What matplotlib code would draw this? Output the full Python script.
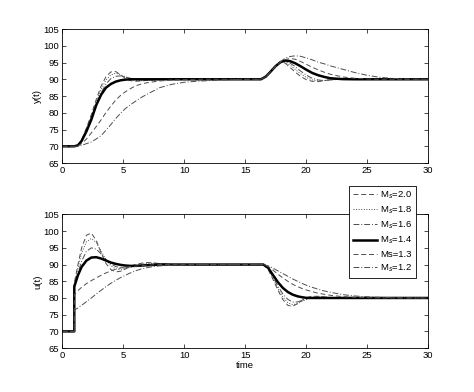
import numpy as np
import matplotlib.pyplot as plt

plt.rcParams['font.family'] = ['Liberation Sans', 'DejaVu Sans']
plt.rcParams['font.size'] = 6.8

# time grid for y(t)
tY = [0, 1.0, 1.3, 1.6,
      2.0, 2.4, 2.8, 3.2, 3.6,
      4.0, 4.4, 4.8, 5.2, 5.6,
      6.0, 6.5, 7, 8, 9,
      10, 11, 12, 13, 14,
      15, 16, 16.3, 16.7, 17.1,
      17.5, 17.9, 18.3, 18.7, 19.1,
      19.5, 20, 20.5, 21, 21.5,
      22, 23, 24, 25, 26,
      27, 28, 30]

y_20 = [70, 70, 70.3, 71.9,
        75.5, 79.5, 84, 88, 90.8,
        92.2, 92.3, 91.3, 90.2, 89.6,
        89.4, 89.5, 89.7, 89.9, 90,
        90, 90, 90, 90, 90,
        90, 90, 90, 90.8, 92.4,
        94, 95, 94.8, 93.5, 92.2,
        91, 89.9, 89.4, 89.3, 89.6,
        89.9, 90.05, 90, 90, 90,
        90, 90, 90]
y_18 = [70, 70, 70.3, 71.8,
        75.2, 79, 83.3, 87, 89.8,
        91.3, 91.8, 91.4, 90.7, 90.1,
        89.7, 89.6, 89.7, 89.9, 90,
        90, 90, 90, 90, 90,
        90, 90, 90, 90.8, 92.3,
        93.9, 95.1, 95.1, 94.2, 93,
        91.8, 90.6, 89.8, 89.5, 89.6,
        89.9, 90, 90, 90, 90,
        90, 90, 90]
y_16 = [70, 70, 70.3, 71.7,
        74.8, 78.5, 82.6, 86, 88.6,
        90.2, 90.9, 91, 90.7, 90.3,
        90, 89.8, 89.8, 89.9, 90,
        90, 90, 90, 90, 90,
        90, 90, 90, 90.8, 92.3,
        93.9, 95.2, 95.4, 94.8, 93.8,
        92.6, 91.3, 90.3, 89.8, 89.6,
        89.8, 90, 90, 90, 90,
        90, 90, 90]
y_14 = [70, 70, 70.3, 71.6,
        74.5, 78, 82.3, 85.4, 87.5,
        88.6, 89.3, 89.7, 89.9, 90,
        90, 90, 90, 90, 90,
        90, 90, 90, 90, 90,
        90, 90, 90, 90.8, 92.3,
        93.9, 95.1, 95.6, 95.4, 94.8,
        94, 92.9, 91.9, 91.2, 90.7,
        90.3, 90.05, 90, 90, 90,
        90, 90, 90]
y_13 = [70, 70, 70.2, 70.8,
        72.2, 74, 75.9, 77.9, 80.1,
        82, 83.8, 85.2, 86.3, 87.2,
        88, 88.6, 89, 89.5, 89.8,
        89.9, 90, 90, 90, 90,
        90, 90, 90, 90.8, 92.3,
        93.8, 95.1, 95.9, 96.2, 96,
        95.4, 94.5, 93.6, 92.8, 92.1,
        91.5, 90.7, 90.3, 90.1, 90,
        90, 90, 90]
y_12 = [70, 70, 70, 70.3,
        70.8, 71.3, 72.2, 73.2, 74.8,
        76.5, 78.3, 79.9, 81.3, 82.4,
        83.4, 84.6, 85.6, 87.5, 88.5,
        89.1, 89.4, 89.6, 89.8, 89.9,
        90, 90, 90, 90.8, 92.3,
        93.9, 95.3, 96.3, 96.8, 97,
        96.9, 96.4, 95.8, 95.1, 94.6,
        94, 93, 92, 91.2, 90.6,
        90.3, 90.1, 90]

# time grid for u(t), step at t=1
tU = [0, 1.0, 1.0, 1.3, 1.6,
      2.0, 2.4, 2.8, 3.2, 3.6,
      4.0, 4.4, 4.8, 5.2, 5.6,
      6.0, 6.5, 7, 7.5, 8,
      9, 10, 11, 12, 14,
      16, 16.5, 16.9, 17.3, 17.7,
      18.1, 18.5, 18.9, 19.3, 19.7,
      20.1, 20.5, 21, 21.5, 22,
      23, 24, 25, 26, 27,
      28, 30]

u_20 = [70, 70, 84.5, 90, 95,
        98.8, 99.4, 97.2, 93.5, 90.3,
        88.5, 87.8, 88, 88.7, 89.5,
        90, 90.4, 90.6, 90.5, 90.3,
        90, 90, 90, 90, 90,
        90, 90, 88.5, 85.5, 82.3,
        79.5, 77.8, 77.5, 78.3, 79.4,
        80.2, 80.5, 80.5, 80.3, 80.1,
        80, 80, 80, 80, 80,
        80, 80]
u_18 = [70, 70, 84, 89, 93.5,
        96.8, 97.8, 96.6, 94, 91.4,
        89.6, 88.7, 88.4, 88.7, 89.2,
        89.7, 90.1, 90.4, 90.4, 90.2,
        90, 90, 90, 90, 90,
        90, 90, 88.7, 85.8, 82.8,
        80.3, 78.6, 78, 78.3, 79,
        79.7, 80.2, 80.4, 80.3, 80.1,
        80, 80, 80, 80, 80,
        80, 80]
u_16 = [70, 70, 83.5, 87.5, 91,
        94, 95, 94.6, 93.2, 91.5,
        90.2, 89.4, 89, 89, 89.2,
        89.5, 89.8, 90, 90.2, 90.2,
        90, 90, 90, 90, 90,
        90, 90, 88.9, 86.3, 83.5,
        81.2, 79.6, 78.8, 78.8, 79.3,
        79.8, 80.1, 80.2, 80.1, 80,
        80, 80, 80, 80, 80,
        80, 80]
u_14 = [70, 70, 83.4, 86.8, 89.3,
        91.2, 92.1, 92.2, 91.8, 91.2,
        90.6, 90.2, 89.9, 89.7, 89.6,
        89.6, 89.7, 89.8, 89.9, 90,
        90, 90, 90, 90, 90,
        90, 90, 89, 86.8, 84.7,
        83, 81.8, 81, 80.5, 80.2,
        80, 80, 80, 80, 80,
        80, 80, 80, 80, 80,
        80, 80]
u_13 = [70, 70, 81, 82.2, 83.2,
        84.3, 85.2, 86, 86.8, 87.5,
        88.1, 88.6, 89, 89.2, 89.4,
        89.5, 89.7, 89.8, 89.9, 90,
        90, 90, 90, 90, 90,
        90, 90, 89.4, 88.3, 87.1,
        86, 85, 84.1, 83.4, 82.8,
        82.3, 81.9, 81.4, 81.1, 80.8,
        80.4, 80.2, 80.1, 80, 80,
        80, 80]
u_12 = [70, 70, 76.4, 77, 77.8,
        78.9, 80, 81.2, 82.3, 83.4,
        84.4, 85.3, 86.1, 86.8, 87.5,
        88.1, 88.7, 89.1, 89.4, 89.6,
        89.8, 89.9, 90, 90, 90,
        90, 90, 89.6, 88.9, 88.1,
        87.3, 86.5, 85.7, 85, 84.3,
        83.7, 83.2, 82.6, 82.1, 81.7,
        81, 80.6, 80.35, 80.2, 80.1,
        80.05, 80]

labels = ['M$_s$=2.0', 'M$_s$=1.8', 'M$_s$=1.6', 'M$_s$=1.4', 'Ms=1.3', 'M$_s$=1.2']
styles = [((0, (5, 3)), '0.3', 0.7),
          (':', '0.3', 0.7),
          ((0, (6, 2, 1, 2)), '0.3', 0.7),
          ('-', 'black', 1.8),
          ((0, (5, 3)), '0.3', 0.7),
          ((0, (6, 2, 1, 2)), '0.3', 0.7)]

ys = [y_20, y_18, y_16, y_14, y_13, y_12]
us = [u_20, u_18, u_16, u_14, u_13, u_12]

fig = plt.figure(figsize=(4.74, 3.92), dpi=100)
ax1 = fig.add_axes([0.131, 0.584, 0.772, 0.342])
ax2 = fig.add_axes([0.131, 0.112, 0.772, 0.341])

handles = []
for y, u, st, lab in zip(ys, us, styles, labels):
    ls, c, lw = st
    ax1.plot(tY, y, linestyle=ls, color=c, lw=lw)
    h, = ax2.plot(tU, u, linestyle=ls, color=c, lw=lw, label=lab)
    handles.append(h)

for ax in (ax1, ax2):
    ax.set_xlim(0, 30)
    ax.set_ylim(65, 105)
    ax.set_xticks(np.arange(0, 31, 5))
    ax.set_yticks(np.arange(65, 106, 5))
    ax.tick_params(direction='in', top=True, right=True, length=3, width=0.5, pad=2)
    for s in ax.spines.values():
        s.set_linewidth(0.6)

ax1.set_ylabel('y(t)', labelpad=1)
ax2.set_ylabel('u(t)', labelpad=1)
ax2.set_xlabel('time', labelpad=1)

leg = fig.legend(handles=handles, loc='upper left', bbox_to_anchor=(0.736, 0.526),
                 fancybox=False, framealpha=1, edgecolor='black', handlelength=2.6,
                 handletextpad=0.3, labelspacing=0.38, borderpad=0.4, borderaxespad=0)
leg.get_frame().set_linewidth(0.6)

plt.savefig('out.png', dpi=100)
